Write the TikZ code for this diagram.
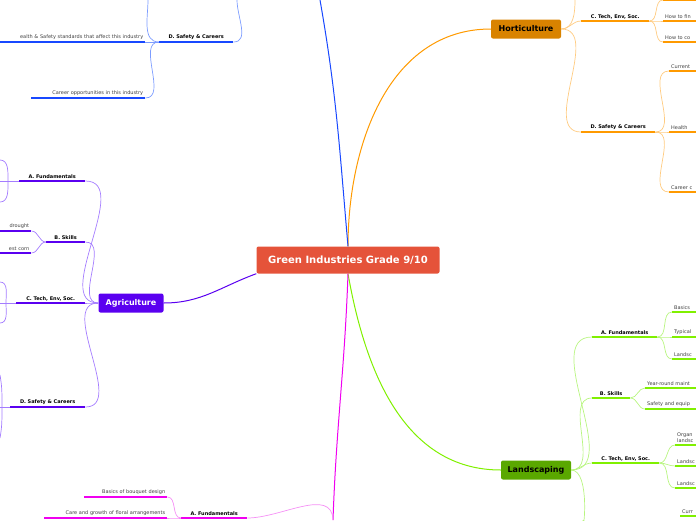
\documentclass[tikz,border=0pt]{standalone}
\usepackage{fontspec}
\setmainfont{DejaVu Sans}
\definecolor{rootred}{HTML}{E5533A}
\definecolor{agrdark}{HTML}{5A00F0}
\definecolor{agrlight}{HTML}{A47CFF}
\definecolor{hordark}{HTML}{FF9A00}
\definecolor{horlight}{HTML}{FFCB80}
\definecolor{landdark}{HTML}{80F000}
\definecolor{landlight}{HTML}{B8F580}
\definecolor{bluedark}{HTML}{1848FF}
\definecolor{bluelight}{HTML}{7C9CFF}
\definecolor{magdark}{HTML}{F000F0}
\definecolor{maglight}{HTML}{F590F5}
\tikzset{
  topic/.style={rounded corners=2pt,minimum height=19,inner sep=3,font=\bfseries\fontsize{8}{9}\selectfont},
  sub/.style={anchor=south west,inner sep=2,text width=#1,align=center,font=\bfseries\fontsize{5}{6}\selectfont},
  leafr/.style={anchor=south west,inner sep=2,text width=#1,align=right,text=black!75,font=\fontsize{5}{6}\selectfont},
  leafl/.style={anchor=south west,inner sep=2,text width=#1,align=left,text=black!75,font=\fontsize{5}{6}\selectfont},
  uline/.style={line width=2.5pt,#1},
  conn/.style={line width=0.7pt,#1}
}
\begin{document}
\begin{tikzpicture}[x=1pt,y=-1pt]
  \useasboundingbox (0,0) rectangle (696,520);
  \clip (0,0) rectangle (696,520);
  % main branches
  \node[topic,fill=rootred,text=white,minimum width=183,minimum height=27,font=\bfseries\fontsize{10}{12}\selectfont] (root) at (348,260) {Green Industries Grade 9/10};
  \node[topic,fill=hordark!85!black,text=black,minimum width=70] (hor) at (526,29) {Horticulture};
  \node[topic,fill=agrdark,text=white,minimum width=65] (agr) at (131,303) {Agriculture};
  \node[topic,fill=landdark!70!black,text=black,minimum width=70] (land) at (536,470) {Landscaping};
  \coordinate (bluetop) at (320,0);
  \coordinate (magbot) at (333,520);
  \draw[conn=hordark,line width=1pt] (root.north) to[out=90,in=180] (hor.west);
  \draw[conn=agrdark,line width=1pt] (root.south west) to[out=200,in=0] (agr.east);
  \draw[conn=landdark,line width=1pt] (root.south) to[out=-80,in=180] (land.west);
  \draw[conn=bluedark,line width=1pt] (root.north) to[out=95,in=-80] (bluetop);
  \draw[conn=magdark,line width=1pt] (root.south) to[out=-92,in=88] (magbot);
  % blue branch
  \node[sub=70] (blD) at (159,42) {D. Safety \& Careers};
  \draw[uline=bluedark] (blD.south west) -- (blD.south east);
  \coordinate (blup) at (237,0);
  \draw[conn=bluelight] (blD.south east) to[out=0,in=-90] (blup);
  \node[leafr=141] (blD2) at (0,42) {ealth \& Safety standards that affect this industry};
  \node[leafr=110] (blD3) at (31,98) {Career opportunities in this industry};
  \coordinate (blD1) at (148,0);
  \draw[uline=bluedark] (blD2.south west) -- (blD2.south east);
  \draw[uline=bluedark] (blD3.south west) -- (blD3.south east);
  \draw[conn=bluelight] (blD.south west) -- (blD2.south east);
  \draw[conn=bluelight] (blD.south west) to[out=180,in=-90] (blD1);
  \draw[conn=bluelight] (blD.south west) to[out=180,in=0] (blD3.south east);
  % agriculture
  \node[sub=62] (agA) at (19,181) {A. Fundamentals};
  \node[sub=35] (agB) at (46,242) {B. Skills};
  \node[sub=65] (agC) at (16,303) {C. Tech, Env, Soc.};
  \node[sub=71] (agD) at (10,407) {D. Safety \& Careers};
  \foreach \n in {agA,agB,agC,agD}{
    \draw[uline=agrdark] (\n.south west) -- (\n.south east);
    \draw[conn=agrlight] (agr.west) to[out=180,in=0] (\n.south east);
  }
  \node[leafr=27] (agB1) at (0,231) {drought};
  \node[leafr=27] (agB2) at (0,253) {est corn};
  \foreach \n in {agB1,agB2}{
    \draw[uline=agrdark] (\n.south west) -- (\n.south east);
    \draw[conn=agrlight] (agB.south west) to[out=180,in=0] (\n.south east);
  }
  \coordinate (agA1) at (0,160);
  \coordinate (agA2) at (0,202);
  \coordinate (agC1) at (0,282);
  \coordinate (agC2) at (0,323);
  \coordinate (agD1) at (0,375);
  \coordinate (agD2) at (0,438);
  \draw[conn=agrlight] (agA1) to[out=0,in=90] (8,181) to[out=-90,in=0] (agA2);
  \draw[conn=agrlight] (agA.south west) -- (0,181);
  \draw[conn=agrlight] (agC1) to[out=0,in=90] (6,303) to[out=-90,in=0] (agC2);
  \draw[conn=agrlight] (agC.south west) -- (0,303);
  \draw[conn=agrlight] (agD1) to[out=-80,in=90] (2,407) to[out=-90,in=80] (agD2);
  \draw[conn=agrlight] (agD.south west) -- (0,407);
  % horticulture
  \node[sub=64] (hoC) at (581,21) {C. Tech, Env, Soc.};
  \node[sub=70] (hoD) at (581,132) {D. Safety \& Careers};
  \coordinate (houp) at (575,0);
  \draw[conn=horlight] (hor.east) to[out=0,in=-90] (houp);
  \foreach \n in {hoC,hoD}{
    \draw[uline=hordark] (\n.south west) -- (\n.south east);
    \draw[conn=horlight] (hor.east) to[out=0,in=180] (\n.south west);
  }
  \node[leafl=40] (hoC1) at (663,21) {How to fin};
  \node[leafl=40] (hoC2) at (663,42) {How to co};
  \coordinate (hoC0) at (663,0);
  \draw[uline=hordark] (hoC0) -- (696,0);
  \draw[conn=horlight] (hoC.south east) to[out=0,in=180] (hoC0);
  \node[leafl=40] (hoD1) at (669,71) {Current};
  \node[leafl=40] (hoD2) at (669,132) {Health};
  \node[leafl=40] (hoD3) at (669,192) {Career c};
  \foreach \n in {hoC1,hoC2}{
    \draw[uline=hordark] (\n.south west) -- (\n.south east);
    \draw[conn=horlight] (hoC.south east) to[out=0,in=180] (\n.south west);
  }
  \foreach \n in {hoD1,hoD2,hoD3}{
    \draw[uline=hordark] (\n.south west) -- (\n.south east);
    \draw[conn=horlight] (hoD.south east) to[out=0,in=180] (\n.south west);
  }
  % landscaping
  \node[sub=61] (laA) at (592,337) {A. Fundamentals};
  \node[sub=34] (laB) at (592,398) {B. Skills};
  \node[sub=63] (laC) at (592,463) {C. Tech, Env, Soc.};
  \coordinate (ladown) at (583,520);
  \draw[conn=landlight] (land.east) to[out=0,in=-90] (ladown);
  \foreach \n in {laA,laB,laC}{
    \draw[uline=landdark] (\n.south west) -- (\n.south east);
    \draw[conn=landlight] (land.east) to[out=0,in=180] (\n.south west);
  }
  \node[leafl=30] (laA1) at (672,312) {Basics};
  \node[leafl=30] (laA2) at (672,337) {Typical};
  \node[leafl=30] (laA3) at (672,359) {Landsc};
  \node[leafl=60] (laB1) at (645,388) {Year-round maint};
  \node[leafl=60] (laB2) at (645,409) {Safety and equip};
  \node[leafl=30] (laC1) at (675,445) {Organ\\landsc};
  \node[leafl=30] (laC2) at (675,466) {Landsc};
  \node[leafl=30] (laC3) at (675,488) {Landsc};
  \node[leafl=30] (laD1) at (680,516) {Curr};
  \foreach \n/\p in {laA1/laA,laA2/laA,laA3/laA,laB1/laB,laB2/laB,laC1/laC,laC2/laC,laC3/laC}{
    \draw[uline=landdark] (\n.south west) -- (\n.south east);
    \draw[conn=landlight] (\p.south east) to[out=0,in=180] (\n.south west);
  }
  \draw[uline=landdark] (laD1.south west) -- (laD1.south east);
  % magenta branch
  \node[sub=62] (mgA) at (181,518) {A. Fundamentals};
  \draw[uline=magdark] (mgA.south west) -- (mgA.south east);
  \draw[conn=maglight] (magbot) to[out=92,in=0] (mgA.south east);
  \node[leafr=79] (mgA1) at (84,497) {Basics of bouquet design};
  \node[leafr=119] (mgA2) at (44,518) {Care and growth of floral arrangements};
  \foreach \n in {mgA1,mgA2}{
    \draw[uline=magdark] (\n.south west) -- (\n.south east);
    \draw[conn=maglight] (mgA.south west) to[out=180,in=0] (\n.south east);
  }
\end{tikzpicture}
\end{document}
